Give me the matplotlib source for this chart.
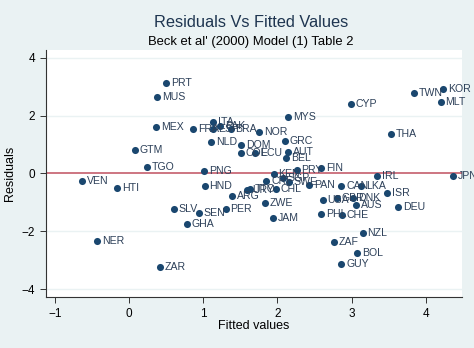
import matplotlib
matplotlib.use("Agg")
import matplotlib.pyplot as plt

plt.rcParams['font.family'] = ['Liberation Sans', 'DejaVu Sans']

# country codes, fitted values, residuals
countries = ["PRT", "MUS", "MEX", "FRA", "ITA", "ESP", "PAK", "BRA", "NOR", "MYS",
             "NLD", "DOM", "GRC", "COL", "ECU", "AUT", "BEL", "PNG", "KEN", "PRY",
             "FIN", "CYP", "TWN", "KOR", "MLT", "THA", "IRL", "JPN", "GTM", "TGO",
             "VEN", "HTI", "SLV", "NER", "ZAR", "GHA", "SEN", "PER", "HND", "ARG",
             "URY", "TTO", "CHL", "CRI", "SGP", "SWE", "PAN", "ZWE", "JAM", "CAN",
             "LKA", "USA", "GBR", "DNK", "AUS", "ISR", "DEU", "PHL", "CHE", "NZL",
             "ZAF", "BOL", "GUY"]
fitted = [0.50, 0.38, 0.36, 0.86, 1.13, 1.13, 1.23, 1.37, 1.75, 2.14,
          1.11, 1.51, 2.10, 1.51, 1.70, 2.14, 2.12, 1.01, 1.95, 2.26,
          2.59, 2.99, 3.84, 4.23, 4.20, 3.53, 3.34, 4.37, 0.08, 0.24,
          -0.63, -0.16, 0.60, -0.43, 0.42, 0.78, 0.94, 1.30, 1.02, 1.39,
          1.59, 1.63, 1.98, 1.85, 2.07, 2.15, 2.43, 1.83, 1.94, 2.86,
          3.13, 2.61, 2.80, 3.02, 3.06, 3.48, 3.63, 2.59, 2.87, 3.15,
          2.76, 3.07, 2.86]
resid = [3.13, 2.65, 1.61, 1.54, 1.78, 1.54, 1.64, 1.54, 1.44, 1.96,
         1.09, 0.99, 1.12, 0.71, 0.71, 0.74, 0.54, 0.09, -0.02, 0.12,
         0.19, 2.40, 2.79, 2.92, 2.47, 1.36, -0.09, -0.09, 0.81, 0.22,
         -0.26, -0.50, -1.23, -2.34, -3.24, -1.75, -1.38, -1.23, -0.43, -0.78,
         -0.57, -0.53, -0.54, -0.26, -0.16, -0.30, -0.40, -1.02, -1.54, -0.45,
         -0.42, -0.92, -0.85, -0.85, -1.09, -0.66, -1.17, -1.40, -1.44, -2.05,
         -2.37, -2.75, -3.13]

navy = "#1a476f"
bg = "#eaf2f3"

fig = plt.figure(figsize=(4.74, 3.48), dpi=100, facecolor=bg)
ax = fig.add_axes([0.097, 0.147, 0.878, 0.709])
ax.set_facecolor("white")

ax.axhline(0, color="#c0505f", lw=1.1, zorder=1)
for yy in [-4, -2, 2, 4]:
    ax.axhline(yy, color=bg, lw=1.0, zorder=0)

ax.scatter(fitted, resid, s=26, color=navy, zorder=3, linewidths=0)
for c, x, y in zip(countries, fitted, resid):
    ax.annotate(c, (x, y), xytext=(3.5, 0), textcoords="offset points",
                va="center", ha="left", fontsize=7.6, color="#2d4059", zorder=4)

ax.set_xlim(-1.12, 4.49)
ax.set_ylim(-4.27, 4.27)
ax.set_xticks([-1, 0, 1, 2, 3, 4])
ax.set_yticks([-4, -2, 0, 2, 4])
for s in ["top", "right"]:
    ax.spines[s].set_visible(False)
for s in ["left", "bottom"]:
    ax.spines[s].set_color("#333333")
    ax.spines[s].set_linewidth(0.8)
ax.tick_params(labelsize=8.5, length=4.5, width=0.7, color="#333333", pad=3.5)
ax.set_xlabel("Fitted values", fontsize=9, labelpad=0)
ax.set_ylabel("Residuals", fontsize=9, labelpad=4)

fig.text(0.53, 0.935, "Residuals Vs Fitted Values", ha="center", va="center",
         fontsize=11.8, color="#1e3550")
fig.text(0.53, 0.878, "Beck et al' (2000) Model (1) Table 2", ha="center",
         va="center", fontsize=9.4, color="black")

fig.savefig("out.png", dpi=100, facecolor=bg)
